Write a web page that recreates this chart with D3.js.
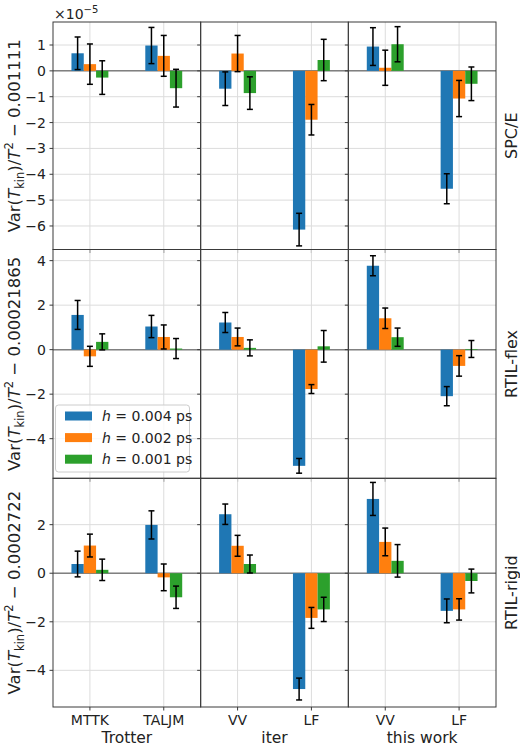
<!DOCTYPE html>
<html><head><meta charset="utf-8">
<script src="https://cdn.jsdelivr.net/npm/d3@7"></script>
<style>
body{margin:0;background:#fff;}
svg{font-family:"DejaVu Sans",sans-serif;}
</style></head>
<body><svg id="c" width="520" height="746"></svg>
<script>
// ---- data ----
const groups = ["Trotter", "iter", "this work"];
const methods = [["MTTK", "TALJM"], ["VV", "LF"], ["VV", "LF"]];
const systems = ["SPC/E", "RTIL-flex", "RTIL-rigid"];
const offsets = ["0.001111", "0.00021865", "0.0002722"];
const seriesNames = ["0.004", "0.002", "0.001"];
const colors = ["#1f77b4", "#ff7f0e", "#2ca02c"];

// order: Trotter MTTK, Trotter TALJM, iter VV, iter LF, this work VV, this work LF
// SPC/E values in units of 1e-5
const spce_h004 = [0.68, 0.98, -0.69, -6.14, 0.94, -4.56];
const spce_h004_err = [0.63, 0.70, 0.65, 0.63, 0.73, 0.58];
const spce_h002 = [0.26, 0.58, 0.67, -1.89, 0.12, -1.07];
const spce_h002_err = [0.78, 0.79, 0.70, 0.59, 0.68, 0.70];
const spce_h001 = [-0.26, -0.67, -0.86, 0.42, 1.03, -0.50];
const spce_h001_err = [0.65, 0.73, 0.63, 0.80, 0.68, 0.65];

const flex_h004 = [1.56, 1.04, 1.22, -5.22, 3.77, -2.09];
const flex_h004_err = [0.65, 0.50, 0.45, 0.33, 0.45, 0.43];
const flex_h002 = [-0.30, 0.57, 0.57, -1.77, 1.41, -0.73];
const flex_h002_err = [0.45, 0.54, 0.40, 0.20, 0.46, 0.46];
const flex_h001 = [0.35, 0.05, 0.08, 0.15, 0.56, 0.03];
const flex_h001_err = [0.36, 0.45, 0.36, 0.71, 0.41, 0.38];

const rigid_h004 = [0.38, 1.99, 2.43, -4.77, 3.06, -1.55];
const rigid_h004_err = [0.53, 0.58, 0.42, 0.45, 0.68, 0.49];
const rigid_h002 = [1.14, -0.17, 1.13, -1.84, 1.29, -1.49];
const rigid_h002_err = [0.47, 0.55, 0.43, 0.43, 0.57, 0.44];
const rigid_h001 = [0.14, -0.99, 0.38, -1.49, 0.51, -0.32];
const rigid_h001_err = [0.44, 0.46, 0.37, 0.50, 0.67, 0.49];

const yDomains = [[-6.91, 1.89], [-5.78, 4.5], [-5.51, 3.91]];
const yTicks = [[-6, -5, -4, -3, -2, -1, 0, 1], [-4, -2, 0, 2, 4], [-4, -2, 0, 2]];

const rowData = [
  [[spce_h004, spce_h004_err], [spce_h002, spce_h002_err], [spce_h001, spce_h001_err]],
  [[flex_h004, flex_h004_err], [flex_h002, flex_h002_err], [flex_h001, flex_h001_err]],
  [[rigid_h004, rigid_h004_err], [rigid_h002, rigid_h002_err], [rigid_h001, rigid_h001_err]]
];

// ---- layout ----
const svg = d3.select("#c");
svg.append("rect").attr("width", 520).attr("height", 746).attr("fill", "#fff");
const left = 53, right = 496;
const rowEdges = [22, 249.5, 478.3, 707];
const colW = (right - left) / 3;
const barW = 1 / 6;

const gridC = "#dcdcdc", spineC = "#3a3a3a";

for (let r = 0; r < 3; r++) {
  const y = d3.scaleLinear().domain(yDomains[r]).range([rowEdges[r + 1], rowEdges[r]]);
  for (let c = 0; c < 3; c++) {
    const x0 = left + c * colW, x1 = x0 + colW;
    const x = d3.scaleLinear().domain([-0.5, 1.5]).range([x0, x1]);
    const g = svg.append("g");
    // grid
    g.selectAll(".gy").data(yTicks[r]).join("line")
      .attr("x1", x0).attr("x2", x1).attr("y1", d => y(d)).attr("y2", d => y(d))
      .attr("stroke", gridC).attr("stroke-width", 1);
    g.selectAll(".gx").data([0, 1]).join("line")
      .attr("x1", d => x(d)).attr("x2", d => x(d)).attr("y1", rowEdges[r]).attr("y2", rowEdges[r + 1])
      .attr("stroke", gridC).attr("stroke-width", 1);
    // zero line
    g.append("line").attr("x1", x0).attr("x2", x1).attr("y1", y(0)).attr("y2", y(0))
      .attr("stroke", "#808080").attr("stroke-width", 1.5);
    // bars
    for (let s = 0; s < 3; s++) {
      const vals = rowData[r][s][0], errs = rowData[r][s][1];
      for (let m = 0; m < 2; m++) {
        const idx = c * 2 + m;
        const v = vals[idx], e = errs[idx];
        const cx = x(m + (s - 1) * barW);
        const bw = x(barW) - x(0);
        g.append("rect").attr("x", cx - bw / 2).attr("width", bw)
          .attr("y", Math.min(y(v), y(0))).attr("height", Math.abs(y(v) - y(0)))
          .attr("fill", colors[s]);
        // error bar
        g.append("line").attr("x1", cx).attr("x2", cx).attr("y1", y(v + e)).attr("y2", y(v - e))
          .attr("stroke", "#000").attr("stroke-width", 1.5);
        [v + e, v - e].forEach(t => {
          g.append("line").attr("x1", cx - 3).attr("x2", cx + 3).attr("y1", y(t)).attr("y2", y(t))
            .attr("stroke", "#000").attr("stroke-width", 1.5);
        });
      }
    }
    // y ticks (outward)
    g.selectAll(".yt").data(yTicks[r]).join("line")
      .attr("x1", x0 - 3.5).attr("x2", x0).attr("y1", d => y(d)).attr("y2", d => y(d))
      .attr("stroke", spineC).attr("stroke-width", 1);
    // x ticks
    g.selectAll(".xt").data([0, 1]).join("line")
      .attr("x1", d => x(d)).attr("x2", d => x(d)).attr("y1", rowEdges[r + 1]).attr("y2", rowEdges[r + 1] + 3.5)
      .attr("stroke", spineC).attr("stroke-width", 1);
    if (r === 2) {
      g.selectAll(".xl").data(methods[c]).join("text")
        .attr("x", (d, i) => x(i)).attr("y", 724.5).attr("text-anchor", "middle")
        .attr("font-size", 14).attr("fill", "#222").text(d => d);
      g.append("text").attr("x", (x0 + x1) / 2).attr("y", 743).attr("text-anchor", "middle")
        .attr("font-size", 15.5).attr("fill", "#222").text(groups[c]);
    }
    // frame
    g.append("rect").attr("x", x0).attr("y", rowEdges[r]).attr("width", colW)
      .attr("height", rowEdges[r + 1] - rowEdges[r]).attr("fill", "none")
      .attr("stroke", spineC).attr("stroke-width", 1);
  }
  // y tick labels
  svg.append("g").selectAll("text").data(yTicks[r]).join("text")
    .attr("x", left - 7).attr("y", d => y(d) + 5).attr("text-anchor", "end")
    .attr("font-size", 14).attr("fill", "#222")
    .text(d => d < 0 ? "\u2212" + Math.abs(d) : String(d));
  // y label
  const cy = (rowEdges[r] + rowEdges[r + 1]) / 2;
  const yl = svg.append("text").attr("transform", `translate(20,${cy}) rotate(-90)`)
    .attr("text-anchor", "middle").attr("font-size", 16.5).attr("fill", "#222");
  yl.append("tspan").text("Var(");
  yl.append("tspan").attr("font-style", "italic").text("T");
  yl.append("tspan").attr("font-size", 11.5).attr("dy", 4).text("kin");
  yl.append("tspan").attr("dy", -4).text(")/");
  yl.append("tspan").attr("font-style", "italic").text("T");
  yl.append("tspan").attr("font-size", 11.5).attr("dy", -7).text("2");
  yl.append("tspan").attr("dy", 7).text(" \u2212 " + offsets[r]);
  // right label
  svg.append("text").attr("transform", `translate(517,${cy}) rotate(-90)`)
    .attr("text-anchor", "middle").attr("font-size", 16).attr("fill", "#222").text(systems[r]);
}

// offset text
const ot = svg.append("text").attr("x", 54).attr("y", 19).attr("font-size", 14).attr("fill", "#222");
ot.append("tspan").text("\u00d710");
ot.append("tspan").attr("font-size", 10).attr("dy", -6).text("\u22125");

// legend
const lg = svg.append("g");
lg.append("rect").attr("x", 55.5).attr("y", 405).attr("width", 134).attr("height", 67).attr("rx", 3)
  .attr("fill", "#fff").attr("fill-opacity", 0.8).attr("stroke", "#cccccc");
seriesNames.forEach((n, i) => {
  const yy = 416 + i * 21.6;
  lg.append("rect").attr("x", 65).attr("y", yy - 4.5).attr("width", 27).attr("height", 9).attr("fill", colors[i]);
  const t = lg.append("text").attr("x", 102).attr("y", yy + 5).attr("font-size", 14).attr("fill", "#222");
  t.append("tspan").attr("font-style", "italic").text("h");
  t.append("tspan").text(" = " + n + " ps");
});
</script>
</body></html>
